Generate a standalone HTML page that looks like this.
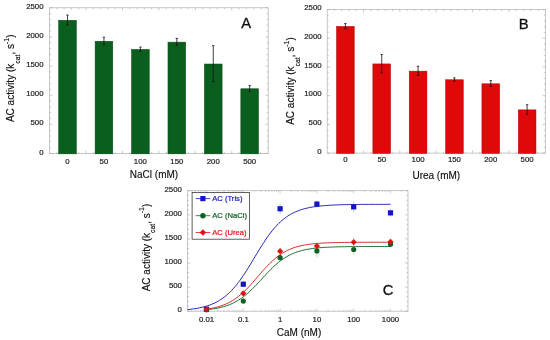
<!DOCTYPE html>
<html><head><meta charset="utf-8"><title>AC activity</title>
<style>
html,body{margin:0;padding:0;background:#fff;}
body{width:550px;height:340px;overflow:hidden;}
svg{display:block;font-family:"Liberation Sans",Arial,Helvetica,sans-serif;}
.tk{font-size:7.8px;fill:#222;stroke:#222;stroke-width:0.2px;}
.ax{font-size:10px;fill:#111;stroke:#111;stroke-width:0.15px;}
.pl{font-size:14.8px;fill:#111;stroke:#111;stroke-width:0.3px;}
.lg{font-size:7.65px;stroke-width:0.2px;}
</style></head><body>
<svg width="550" height="340" viewBox="0 0 550 340">
<rect width="550" height="340" fill="#fff"/>

<rect x="49.6" y="7.8" width="218.6" height="145.7" fill="none" stroke="#b0b0b0" stroke-width="0.7"/>
<path d="M49.6 153.50h2.8M268.2 153.50h-2.8" stroke="#a8a8a8" stroke-width="0.6"/>
<path d="M49.6 147.67h1.5M268.2 147.67h-1.5" stroke="#a8a8a8" stroke-width="0.6"/>
<path d="M49.6 141.84h1.5M268.2 141.84h-1.5" stroke="#a8a8a8" stroke-width="0.6"/>
<path d="M49.6 136.02h1.5M268.2 136.02h-1.5" stroke="#a8a8a8" stroke-width="0.6"/>
<path d="M49.6 130.19h1.5M268.2 130.19h-1.5" stroke="#a8a8a8" stroke-width="0.6"/>
<path d="M49.6 124.36h2.8M268.2 124.36h-2.8" stroke="#a8a8a8" stroke-width="0.6"/>
<path d="M49.6 118.53h1.5M268.2 118.53h-1.5" stroke="#a8a8a8" stroke-width="0.6"/>
<path d="M49.6 112.70h1.5M268.2 112.70h-1.5" stroke="#a8a8a8" stroke-width="0.6"/>
<path d="M49.6 106.88h1.5M268.2 106.88h-1.5" stroke="#a8a8a8" stroke-width="0.6"/>
<path d="M49.6 101.05h1.5M268.2 101.05h-1.5" stroke="#a8a8a8" stroke-width="0.6"/>
<path d="M49.6 95.22h2.8M268.2 95.22h-2.8" stroke="#a8a8a8" stroke-width="0.6"/>
<path d="M49.6 89.39h1.5M268.2 89.39h-1.5" stroke="#a8a8a8" stroke-width="0.6"/>
<path d="M49.6 83.56h1.5M268.2 83.56h-1.5" stroke="#a8a8a8" stroke-width="0.6"/>
<path d="M49.6 77.74h1.5M268.2 77.74h-1.5" stroke="#a8a8a8" stroke-width="0.6"/>
<path d="M49.6 71.91h1.5M268.2 71.91h-1.5" stroke="#a8a8a8" stroke-width="0.6"/>
<path d="M49.6 66.08h2.8M268.2 66.08h-2.8" stroke="#a8a8a8" stroke-width="0.6"/>
<path d="M49.6 60.25h1.5M268.2 60.25h-1.5" stroke="#a8a8a8" stroke-width="0.6"/>
<path d="M49.6 54.42h1.5M268.2 54.42h-1.5" stroke="#a8a8a8" stroke-width="0.6"/>
<path d="M49.6 48.60h1.5M268.2 48.60h-1.5" stroke="#a8a8a8" stroke-width="0.6"/>
<path d="M49.6 42.77h1.5M268.2 42.77h-1.5" stroke="#a8a8a8" stroke-width="0.6"/>
<path d="M49.6 36.94h2.8M268.2 36.94h-2.8" stroke="#a8a8a8" stroke-width="0.6"/>
<path d="M49.6 31.11h1.5M268.2 31.11h-1.5" stroke="#a8a8a8" stroke-width="0.6"/>
<path d="M49.6 25.28h1.5M268.2 25.28h-1.5" stroke="#a8a8a8" stroke-width="0.6"/>
<path d="M49.6 19.46h1.5M268.2 19.46h-1.5" stroke="#a8a8a8" stroke-width="0.6"/>
<path d="M49.6 13.63h1.5M268.2 13.63h-1.5" stroke="#a8a8a8" stroke-width="0.6"/>
<path d="M49.6 7.80h2.8M268.2 7.80h-2.8" stroke="#a8a8a8" stroke-width="0.6"/>
<text class="tk" x="43.5" y="154.50" text-anchor="end">0</text>
<text class="tk" x="43.5" y="125.36" text-anchor="end">500</text>
<text class="tk" x="43.5" y="96.22" text-anchor="end">1000</text>
<text class="tk" x="43.5" y="67.08" text-anchor="end">1500</text>
<text class="tk" x="43.5" y="37.94" text-anchor="end">2000</text>
<text class="tk" x="43.5" y="8.80" text-anchor="end">2500</text>
<path d="M56.89 153.5v-1.5M56.89 7.8v1.5" stroke="#a8a8a8" stroke-width="0.6"/>
<path d="M64.17 153.5v-1.5M64.17 7.8v1.5" stroke="#a8a8a8" stroke-width="0.6"/>
<path d="M71.46 153.5v-1.5M71.46 7.8v1.5" stroke="#a8a8a8" stroke-width="0.6"/>
<path d="M78.75 153.5v-1.5M78.75 7.8v1.5" stroke="#a8a8a8" stroke-width="0.6"/>
<path d="M86.03 153.5v-2.8M86.03 7.8v2.8" stroke="#a8a8a8" stroke-width="0.6"/>
<path d="M93.32 153.5v-1.5M93.32 7.8v1.5" stroke="#a8a8a8" stroke-width="0.6"/>
<path d="M100.61 153.5v-1.5M100.61 7.8v1.5" stroke="#a8a8a8" stroke-width="0.6"/>
<path d="M107.89 153.5v-1.5M107.89 7.8v1.5" stroke="#a8a8a8" stroke-width="0.6"/>
<path d="M115.18 153.5v-1.5M115.18 7.8v1.5" stroke="#a8a8a8" stroke-width="0.6"/>
<path d="M122.47 153.5v-2.8M122.47 7.8v2.8" stroke="#a8a8a8" stroke-width="0.6"/>
<path d="M129.75 153.5v-1.5M129.75 7.8v1.5" stroke="#a8a8a8" stroke-width="0.6"/>
<path d="M137.04 153.5v-1.5M137.04 7.8v1.5" stroke="#a8a8a8" stroke-width="0.6"/>
<path d="M144.33 153.5v-1.5M144.33 7.8v1.5" stroke="#a8a8a8" stroke-width="0.6"/>
<path d="M151.61 153.5v-1.5M151.61 7.8v1.5" stroke="#a8a8a8" stroke-width="0.6"/>
<path d="M158.90 153.5v-2.8M158.90 7.8v2.8" stroke="#a8a8a8" stroke-width="0.6"/>
<path d="M166.19 153.5v-1.5M166.19 7.8v1.5" stroke="#a8a8a8" stroke-width="0.6"/>
<path d="M173.47 153.5v-1.5M173.47 7.8v1.5" stroke="#a8a8a8" stroke-width="0.6"/>
<path d="M180.76 153.5v-1.5M180.76 7.8v1.5" stroke="#a8a8a8" stroke-width="0.6"/>
<path d="M188.05 153.5v-1.5M188.05 7.8v1.5" stroke="#a8a8a8" stroke-width="0.6"/>
<path d="M195.33 153.5v-2.8M195.33 7.8v2.8" stroke="#a8a8a8" stroke-width="0.6"/>
<path d="M202.62 153.5v-1.5M202.62 7.8v1.5" stroke="#a8a8a8" stroke-width="0.6"/>
<path d="M209.91 153.5v-1.5M209.91 7.8v1.5" stroke="#a8a8a8" stroke-width="0.6"/>
<path d="M217.19 153.5v-1.5M217.19 7.8v1.5" stroke="#a8a8a8" stroke-width="0.6"/>
<path d="M224.48 153.5v-1.5M224.48 7.8v1.5" stroke="#a8a8a8" stroke-width="0.6"/>
<path d="M231.77 153.5v-2.8M231.77 7.8v2.8" stroke="#a8a8a8" stroke-width="0.6"/>
<path d="M239.05 153.5v-1.5M239.05 7.8v1.5" stroke="#a8a8a8" stroke-width="0.6"/>
<path d="M246.34 153.5v-1.5M246.34 7.8v1.5" stroke="#a8a8a8" stroke-width="0.6"/>
<path d="M253.63 153.5v-1.5M253.63 7.8v1.5" stroke="#a8a8a8" stroke-width="0.6"/>
<path d="M260.91 153.5v-1.5M260.91 7.8v1.5" stroke="#a8a8a8" stroke-width="0.6"/>
<rect x="58.67" y="20.29" width="17.7" height="133.56" fill="#0b5f1e" stroke="#064715" stroke-width="0.5"/>
<rect x="95.10" y="41.27" width="17.7" height="112.58" fill="#0b5f1e" stroke="#064715" stroke-width="0.5"/>
<rect x="131.53" y="49.43" width="17.7" height="104.42" fill="#0b5f1e" stroke="#064715" stroke-width="0.5"/>
<rect x="167.97" y="42.14" width="17.7" height="111.71" fill="#0b5f1e" stroke="#064715" stroke-width="0.5"/>
<rect x="204.40" y="64.00" width="17.7" height="89.85" fill="#0b5f1e" stroke="#064715" stroke-width="0.5"/>
<rect x="240.83" y="88.77" width="17.7" height="65.08" fill="#0b5f1e" stroke="#064715" stroke-width="0.5"/>
<path d="M67.52 15.09V24.99M66.32 15.09h2.4M66.32 24.99h2.4" stroke="#111" stroke-width="0.8" fill="none"/>
<path d="M103.95 37.23V44.81M102.75 37.23h2.4M102.75 44.81h2.4" stroke="#111" stroke-width="0.8" fill="none"/>
<path d="M140.38 47.14V51.22M139.18 47.14h2.4M139.18 51.22h2.4" stroke="#111" stroke-width="0.8" fill="none"/>
<path d="M176.82 38.40V45.39M175.62 38.40h2.4M175.62 45.39h2.4" stroke="#111" stroke-width="0.8" fill="none"/>
<path d="M213.25 45.68V81.82M212.05 45.68h2.4M212.05 81.82h2.4" stroke="#111" stroke-width="0.8" fill="none"/>
<path d="M249.68 85.60V91.43M248.48 85.60h2.4M248.48 91.43h2.4" stroke="#111" stroke-width="0.8" fill="none"/>
<text class="tk" x="67.52" y="164.4" text-anchor="middle">0</text>
<text class="tk" x="103.95" y="164.4" text-anchor="middle">50</text>
<text class="tk" x="140.38" y="164.4" text-anchor="middle">100</text>
<text class="tk" x="176.82" y="164.4" text-anchor="middle">150</text>
<text class="tk" x="213.25" y="164.4" text-anchor="middle">200</text>
<text class="tk" x="249.68" y="164.4" text-anchor="middle">500</text>
<text class="ax" x="154" y="177.6" text-anchor="middle">NaCl (mM)</text>
<text class="pl" x="246.1" y="27.8" text-anchor="middle">A</text>
<text transform="translate(13.9,122.1) rotate(-90)" font-size="10px" fill="#111" stroke="#111" stroke-width="0.15">AC activity (k<tspan font-size="6.90px" dy="5.6">cat</tspan><tspan dy="-5.6">, s</tspan><tspan font-size="6.90px" dy="-5.4">-1</tspan><tspan dy="5.4">)</tspan></text>
<rect x="327.2" y="9.5" width="218.09999999999997" height="143.6" fill="none" stroke="#b0b0b0" stroke-width="0.7"/>
<path d="M327.2 153.10h2.8M545.3 153.10h-2.8" stroke="#a8a8a8" stroke-width="0.6"/>
<path d="M327.2 147.36h1.5M545.3 147.36h-1.5" stroke="#a8a8a8" stroke-width="0.6"/>
<path d="M327.2 141.61h1.5M545.3 141.61h-1.5" stroke="#a8a8a8" stroke-width="0.6"/>
<path d="M327.2 135.87h1.5M545.3 135.87h-1.5" stroke="#a8a8a8" stroke-width="0.6"/>
<path d="M327.2 130.12h1.5M545.3 130.12h-1.5" stroke="#a8a8a8" stroke-width="0.6"/>
<path d="M327.2 124.38h2.8M545.3 124.38h-2.8" stroke="#a8a8a8" stroke-width="0.6"/>
<path d="M327.2 118.64h1.5M545.3 118.64h-1.5" stroke="#a8a8a8" stroke-width="0.6"/>
<path d="M327.2 112.89h1.5M545.3 112.89h-1.5" stroke="#a8a8a8" stroke-width="0.6"/>
<path d="M327.2 107.15h1.5M545.3 107.15h-1.5" stroke="#a8a8a8" stroke-width="0.6"/>
<path d="M327.2 101.40h1.5M545.3 101.40h-1.5" stroke="#a8a8a8" stroke-width="0.6"/>
<path d="M327.2 95.66h2.8M545.3 95.66h-2.8" stroke="#a8a8a8" stroke-width="0.6"/>
<path d="M327.2 89.92h1.5M545.3 89.92h-1.5" stroke="#a8a8a8" stroke-width="0.6"/>
<path d="M327.2 84.17h1.5M545.3 84.17h-1.5" stroke="#a8a8a8" stroke-width="0.6"/>
<path d="M327.2 78.43h1.5M545.3 78.43h-1.5" stroke="#a8a8a8" stroke-width="0.6"/>
<path d="M327.2 72.68h1.5M545.3 72.68h-1.5" stroke="#a8a8a8" stroke-width="0.6"/>
<path d="M327.2 66.94h2.8M545.3 66.94h-2.8" stroke="#a8a8a8" stroke-width="0.6"/>
<path d="M327.2 61.20h1.5M545.3 61.20h-1.5" stroke="#a8a8a8" stroke-width="0.6"/>
<path d="M327.2 55.45h1.5M545.3 55.45h-1.5" stroke="#a8a8a8" stroke-width="0.6"/>
<path d="M327.2 49.71h1.5M545.3 49.71h-1.5" stroke="#a8a8a8" stroke-width="0.6"/>
<path d="M327.2 43.96h1.5M545.3 43.96h-1.5" stroke="#a8a8a8" stroke-width="0.6"/>
<path d="M327.2 38.22h2.8M545.3 38.22h-2.8" stroke="#a8a8a8" stroke-width="0.6"/>
<path d="M327.2 32.48h1.5M545.3 32.48h-1.5" stroke="#a8a8a8" stroke-width="0.6"/>
<path d="M327.2 26.73h1.5M545.3 26.73h-1.5" stroke="#a8a8a8" stroke-width="0.6"/>
<path d="M327.2 20.99h1.5M545.3 20.99h-1.5" stroke="#a8a8a8" stroke-width="0.6"/>
<path d="M327.2 15.24h1.5M545.3 15.24h-1.5" stroke="#a8a8a8" stroke-width="0.6"/>
<path d="M327.2 9.50h2.8M545.3 9.50h-2.8" stroke="#a8a8a8" stroke-width="0.6"/>
<text class="tk" x="321.6" y="153.90" text-anchor="end">0</text>
<text class="tk" x="321.6" y="125.18" text-anchor="end">500</text>
<text class="tk" x="321.6" y="96.46" text-anchor="end">1000</text>
<text class="tk" x="321.6" y="67.74" text-anchor="end">1500</text>
<text class="tk" x="321.6" y="39.02" text-anchor="end">2000</text>
<text class="tk" x="321.6" y="10.30" text-anchor="end">2500</text>
<path d="M334.47 153.1v-1.5M334.47 9.5v1.5" stroke="#a8a8a8" stroke-width="0.6"/>
<path d="M341.74 153.1v-1.5M341.74 9.5v1.5" stroke="#a8a8a8" stroke-width="0.6"/>
<path d="M349.01 153.1v-1.5M349.01 9.5v1.5" stroke="#a8a8a8" stroke-width="0.6"/>
<path d="M356.28 153.1v-1.5M356.28 9.5v1.5" stroke="#a8a8a8" stroke-width="0.6"/>
<path d="M363.55 153.1v-2.8M363.55 9.5v2.8" stroke="#a8a8a8" stroke-width="0.6"/>
<path d="M370.82 153.1v-1.5M370.82 9.5v1.5" stroke="#a8a8a8" stroke-width="0.6"/>
<path d="M378.09 153.1v-1.5M378.09 9.5v1.5" stroke="#a8a8a8" stroke-width="0.6"/>
<path d="M385.36 153.1v-1.5M385.36 9.5v1.5" stroke="#a8a8a8" stroke-width="0.6"/>
<path d="M392.63 153.1v-1.5M392.63 9.5v1.5" stroke="#a8a8a8" stroke-width="0.6"/>
<path d="M399.90 153.1v-2.8M399.90 9.5v2.8" stroke="#a8a8a8" stroke-width="0.6"/>
<path d="M407.17 153.1v-1.5M407.17 9.5v1.5" stroke="#a8a8a8" stroke-width="0.6"/>
<path d="M414.44 153.1v-1.5M414.44 9.5v1.5" stroke="#a8a8a8" stroke-width="0.6"/>
<path d="M421.71 153.1v-1.5M421.71 9.5v1.5" stroke="#a8a8a8" stroke-width="0.6"/>
<path d="M428.98 153.1v-1.5M428.98 9.5v1.5" stroke="#a8a8a8" stroke-width="0.6"/>
<path d="M436.25 153.1v-2.8M436.25 9.5v2.8" stroke="#a8a8a8" stroke-width="0.6"/>
<path d="M443.52 153.1v-1.5M443.52 9.5v1.5" stroke="#a8a8a8" stroke-width="0.6"/>
<path d="M450.79 153.1v-1.5M450.79 9.5v1.5" stroke="#a8a8a8" stroke-width="0.6"/>
<path d="M458.06 153.1v-1.5M458.06 9.5v1.5" stroke="#a8a8a8" stroke-width="0.6"/>
<path d="M465.33 153.1v-1.5M465.33 9.5v1.5" stroke="#a8a8a8" stroke-width="0.6"/>
<path d="M472.60 153.1v-2.8M472.60 9.5v2.8" stroke="#a8a8a8" stroke-width="0.6"/>
<path d="M479.87 153.1v-1.5M479.87 9.5v1.5" stroke="#a8a8a8" stroke-width="0.6"/>
<path d="M487.14 153.1v-1.5M487.14 9.5v1.5" stroke="#a8a8a8" stroke-width="0.6"/>
<path d="M494.41 153.1v-1.5M494.41 9.5v1.5" stroke="#a8a8a8" stroke-width="0.6"/>
<path d="M501.68 153.1v-1.5M501.68 9.5v1.5" stroke="#a8a8a8" stroke-width="0.6"/>
<path d="M508.95 153.1v-2.8M508.95 9.5v2.8" stroke="#a8a8a8" stroke-width="0.6"/>
<path d="M516.22 153.1v-1.5M516.22 9.5v1.5" stroke="#a8a8a8" stroke-width="0.6"/>
<path d="M523.49 153.1v-1.5M523.49 9.5v1.5" stroke="#a8a8a8" stroke-width="0.6"/>
<path d="M530.76 153.1v-1.5M530.76 9.5v1.5" stroke="#a8a8a8" stroke-width="0.6"/>
<path d="M538.03 153.1v-1.5M538.03 9.5v1.5" stroke="#a8a8a8" stroke-width="0.6"/>
<rect x="336.52" y="26.41" width="17.7" height="127.04" fill="#df0909" stroke="#a80505" stroke-width="0.5"/>
<rect x="372.87" y="63.92" width="17.7" height="89.53" fill="#df0909" stroke="#a80505" stroke-width="0.5"/>
<rect x="409.22" y="71.15" width="17.7" height="82.30" fill="#df0909" stroke="#a80505" stroke-width="0.5"/>
<rect x="445.57" y="79.77" width="17.7" height="73.68" fill="#df0909" stroke="#a80505" stroke-width="0.5"/>
<rect x="481.92" y="83.79" width="17.7" height="69.66" fill="#df0909" stroke="#a80505" stroke-width="0.5"/>
<rect x="518.27" y="109.87" width="17.7" height="43.58" fill="#df0909" stroke="#a80505" stroke-width="0.5"/>
<path d="M345.38 23.57V28.74M344.18 23.57h2.4M344.18 28.74h2.4" stroke="#111" stroke-width="0.8" fill="none"/>
<path d="M381.72 54.48V72.86M380.52 54.48h2.4M380.52 72.86h2.4" stroke="#111" stroke-width="0.8" fill="none"/>
<path d="M418.07 66.31V75.50M416.88 66.31h2.4M416.88 75.50h2.4" stroke="#111" stroke-width="0.8" fill="none"/>
<path d="M454.42 77.80V81.24M453.22 77.80h2.4M453.22 81.24h2.4" stroke="#111" stroke-width="0.8" fill="none"/>
<path d="M490.77 80.67V86.41M489.57 80.67h2.4M489.57 86.41h2.4" stroke="#111" stroke-width="0.8" fill="none"/>
<path d="M527.12 104.74V114.50M525.92 104.74h2.4M525.92 114.50h2.4" stroke="#111" stroke-width="0.8" fill="none"/>
<text class="tk" x="345.38" y="161.6" text-anchor="middle">0</text>
<text class="tk" x="381.72" y="161.6" text-anchor="middle">50</text>
<text class="tk" x="418.07" y="161.6" text-anchor="middle">100</text>
<text class="tk" x="454.42" y="161.6" text-anchor="middle">150</text>
<text class="tk" x="490.77" y="161.6" text-anchor="middle">200</text>
<text class="tk" x="527.12" y="161.6" text-anchor="middle">500</text>
<text class="ax" x="436.3" y="178.6" text-anchor="middle">Urea (mM)</text>
<text class="pl" x="523.6" y="28.8" text-anchor="middle">B</text>
<text transform="translate(293.9,124.8) rotate(-90)" font-size="10px" fill="#111" stroke="#111" stroke-width="0.15">AC activity (k<tspan font-size="6.90px" dy="5.6">cat</tspan><tspan dy="-5.6">, s</tspan><tspan font-size="6.90px" dy="-5.4">-1</tspan><tspan dy="5.4">)</tspan></text>
<rect x="187.5" y="190.7" width="220.5" height="120.5" fill="none" stroke="#b0b0b0" stroke-width="0.7"/>
<path d="M187.5 311.20h2.8M408.0 311.20h-2.8" stroke="#a8a8a8" stroke-width="0.6"/>
<path d="M187.5 306.38h1.5M408.0 306.38h-1.5" stroke="#a8a8a8" stroke-width="0.6"/>
<path d="M187.5 301.56h1.5M408.0 301.56h-1.5" stroke="#a8a8a8" stroke-width="0.6"/>
<path d="M187.5 296.74h1.5M408.0 296.74h-1.5" stroke="#a8a8a8" stroke-width="0.6"/>
<path d="M187.5 291.92h1.5M408.0 291.92h-1.5" stroke="#a8a8a8" stroke-width="0.6"/>
<path d="M187.5 287.10h2.8M408.0 287.10h-2.8" stroke="#a8a8a8" stroke-width="0.6"/>
<path d="M187.5 282.28h1.5M408.0 282.28h-1.5" stroke="#a8a8a8" stroke-width="0.6"/>
<path d="M187.5 277.46h1.5M408.0 277.46h-1.5" stroke="#a8a8a8" stroke-width="0.6"/>
<path d="M187.5 272.64h1.5M408.0 272.64h-1.5" stroke="#a8a8a8" stroke-width="0.6"/>
<path d="M187.5 267.82h1.5M408.0 267.82h-1.5" stroke="#a8a8a8" stroke-width="0.6"/>
<path d="M187.5 263.00h2.8M408.0 263.00h-2.8" stroke="#a8a8a8" stroke-width="0.6"/>
<path d="M187.5 258.18h1.5M408.0 258.18h-1.5" stroke="#a8a8a8" stroke-width="0.6"/>
<path d="M187.5 253.36h1.5M408.0 253.36h-1.5" stroke="#a8a8a8" stroke-width="0.6"/>
<path d="M187.5 248.54h1.5M408.0 248.54h-1.5" stroke="#a8a8a8" stroke-width="0.6"/>
<path d="M187.5 243.72h1.5M408.0 243.72h-1.5" stroke="#a8a8a8" stroke-width="0.6"/>
<path d="M187.5 238.90h2.8M408.0 238.90h-2.8" stroke="#a8a8a8" stroke-width="0.6"/>
<path d="M187.5 234.08h1.5M408.0 234.08h-1.5" stroke="#a8a8a8" stroke-width="0.6"/>
<path d="M187.5 229.26h1.5M408.0 229.26h-1.5" stroke="#a8a8a8" stroke-width="0.6"/>
<path d="M187.5 224.44h1.5M408.0 224.44h-1.5" stroke="#a8a8a8" stroke-width="0.6"/>
<path d="M187.5 219.62h1.5M408.0 219.62h-1.5" stroke="#a8a8a8" stroke-width="0.6"/>
<path d="M187.5 214.80h2.8M408.0 214.80h-2.8" stroke="#a8a8a8" stroke-width="0.6"/>
<path d="M187.5 209.98h1.5M408.0 209.98h-1.5" stroke="#a8a8a8" stroke-width="0.6"/>
<path d="M187.5 205.16h1.5M408.0 205.16h-1.5" stroke="#a8a8a8" stroke-width="0.6"/>
<path d="M187.5 200.34h1.5M408.0 200.34h-1.5" stroke="#a8a8a8" stroke-width="0.6"/>
<path d="M187.5 195.52h1.5M408.0 195.52h-1.5" stroke="#a8a8a8" stroke-width="0.6"/>
<path d="M187.5 190.70h2.8M408.0 190.70h-2.8" stroke="#a8a8a8" stroke-width="0.6"/>
<text class="tk" x="181.9" y="312.40" text-anchor="end">0</text>
<text class="tk" x="181.9" y="288.30" text-anchor="end">500</text>
<text class="tk" x="181.9" y="264.20" text-anchor="end">1000</text>
<text class="tk" x="181.9" y="240.10" text-anchor="end">1500</text>
<text class="tk" x="181.9" y="216.00" text-anchor="end">2000</text>
<text class="tk" x="181.9" y="191.90" text-anchor="end">2500</text>
<path d="M191.86 311.2v-1.4M191.86 190.7v1.4" stroke="#a8a8a8" stroke-width="0.5"/>
<path d="M195.42 311.2v-1.4M195.42 190.7v1.4" stroke="#a8a8a8" stroke-width="0.5"/>
<path d="M198.34 311.2v-1.4M198.34 190.7v1.4" stroke="#a8a8a8" stroke-width="0.5"/>
<path d="M200.80 311.2v-1.4M200.80 190.7v1.4" stroke="#a8a8a8" stroke-width="0.5"/>
<path d="M202.93 311.2v-1.4M202.93 190.7v1.4" stroke="#a8a8a8" stroke-width="0.5"/>
<path d="M204.82 311.2v-1.4M204.82 190.7v1.4" stroke="#a8a8a8" stroke-width="0.5"/>
<path d="M206.50 311.2v-2.8M206.50 190.7v2.8" stroke="#a8a8a8" stroke-width="0.5"/>
<path d="M217.58 311.2v-1.4M217.58 190.7v1.4" stroke="#a8a8a8" stroke-width="0.5"/>
<path d="M224.06 311.2v-1.4M224.06 190.7v1.4" stroke="#a8a8a8" stroke-width="0.5"/>
<path d="M228.66 311.2v-1.4M228.66 190.7v1.4" stroke="#a8a8a8" stroke-width="0.5"/>
<path d="M232.22 311.2v-1.4M232.22 190.7v1.4" stroke="#a8a8a8" stroke-width="0.5"/>
<path d="M235.14 311.2v-1.4M235.14 190.7v1.4" stroke="#a8a8a8" stroke-width="0.5"/>
<path d="M237.60 311.2v-1.4M237.60 190.7v1.4" stroke="#a8a8a8" stroke-width="0.5"/>
<path d="M239.73 311.2v-1.4M239.73 190.7v1.4" stroke="#a8a8a8" stroke-width="0.5"/>
<path d="M241.62 311.2v-1.4M241.62 190.7v1.4" stroke="#a8a8a8" stroke-width="0.5"/>
<path d="M243.30 311.2v-2.8M243.30 190.7v2.8" stroke="#a8a8a8" stroke-width="0.5"/>
<path d="M254.38 311.2v-1.4M254.38 190.7v1.4" stroke="#a8a8a8" stroke-width="0.5"/>
<path d="M260.86 311.2v-1.4M260.86 190.7v1.4" stroke="#a8a8a8" stroke-width="0.5"/>
<path d="M265.46 311.2v-1.4M265.46 190.7v1.4" stroke="#a8a8a8" stroke-width="0.5"/>
<path d="M269.02 311.2v-1.4M269.02 190.7v1.4" stroke="#a8a8a8" stroke-width="0.5"/>
<path d="M271.94 311.2v-1.4M271.94 190.7v1.4" stroke="#a8a8a8" stroke-width="0.5"/>
<path d="M274.40 311.2v-1.4M274.40 190.7v1.4" stroke="#a8a8a8" stroke-width="0.5"/>
<path d="M276.53 311.2v-1.4M276.53 190.7v1.4" stroke="#a8a8a8" stroke-width="0.5"/>
<path d="M278.42 311.2v-1.4M278.42 190.7v1.4" stroke="#a8a8a8" stroke-width="0.5"/>
<path d="M280.10 311.2v-2.8M280.10 190.7v2.8" stroke="#a8a8a8" stroke-width="0.5"/>
<path d="M291.18 311.2v-1.4M291.18 190.7v1.4" stroke="#a8a8a8" stroke-width="0.5"/>
<path d="M297.66 311.2v-1.4M297.66 190.7v1.4" stroke="#a8a8a8" stroke-width="0.5"/>
<path d="M302.26 311.2v-1.4M302.26 190.7v1.4" stroke="#a8a8a8" stroke-width="0.5"/>
<path d="M305.82 311.2v-1.4M305.82 190.7v1.4" stroke="#a8a8a8" stroke-width="0.5"/>
<path d="M308.74 311.2v-1.4M308.74 190.7v1.4" stroke="#a8a8a8" stroke-width="0.5"/>
<path d="M311.20 311.2v-1.4M311.20 190.7v1.4" stroke="#a8a8a8" stroke-width="0.5"/>
<path d="M313.33 311.2v-1.4M313.33 190.7v1.4" stroke="#a8a8a8" stroke-width="0.5"/>
<path d="M315.22 311.2v-1.4M315.22 190.7v1.4" stroke="#a8a8a8" stroke-width="0.5"/>
<path d="M316.90 311.2v-2.8M316.90 190.7v2.8" stroke="#a8a8a8" stroke-width="0.5"/>
<path d="M327.98 311.2v-1.4M327.98 190.7v1.4" stroke="#a8a8a8" stroke-width="0.5"/>
<path d="M334.46 311.2v-1.4M334.46 190.7v1.4" stroke="#a8a8a8" stroke-width="0.5"/>
<path d="M339.06 311.2v-1.4M339.06 190.7v1.4" stroke="#a8a8a8" stroke-width="0.5"/>
<path d="M342.62 311.2v-1.4M342.62 190.7v1.4" stroke="#a8a8a8" stroke-width="0.5"/>
<path d="M345.54 311.2v-1.4M345.54 190.7v1.4" stroke="#a8a8a8" stroke-width="0.5"/>
<path d="M348.00 311.2v-1.4M348.00 190.7v1.4" stroke="#a8a8a8" stroke-width="0.5"/>
<path d="M350.13 311.2v-1.4M350.13 190.7v1.4" stroke="#a8a8a8" stroke-width="0.5"/>
<path d="M352.02 311.2v-1.4M352.02 190.7v1.4" stroke="#a8a8a8" stroke-width="0.5"/>
<path d="M353.70 311.2v-2.8M353.70 190.7v2.8" stroke="#a8a8a8" stroke-width="0.5"/>
<path d="M364.78 311.2v-1.4M364.78 190.7v1.4" stroke="#a8a8a8" stroke-width="0.5"/>
<path d="M371.26 311.2v-1.4M371.26 190.7v1.4" stroke="#a8a8a8" stroke-width="0.5"/>
<path d="M375.86 311.2v-1.4M375.86 190.7v1.4" stroke="#a8a8a8" stroke-width="0.5"/>
<path d="M379.42 311.2v-1.4M379.42 190.7v1.4" stroke="#a8a8a8" stroke-width="0.5"/>
<path d="M382.34 311.2v-1.4M382.34 190.7v1.4" stroke="#a8a8a8" stroke-width="0.5"/>
<path d="M384.80 311.2v-1.4M384.80 190.7v1.4" stroke="#a8a8a8" stroke-width="0.5"/>
<path d="M386.93 311.2v-1.4M386.93 190.7v1.4" stroke="#a8a8a8" stroke-width="0.5"/>
<path d="M388.82 311.2v-1.4M388.82 190.7v1.4" stroke="#a8a8a8" stroke-width="0.5"/>
<path d="M390.50 311.2v-2.8M390.50 190.7v2.8" stroke="#a8a8a8" stroke-width="0.5"/>
<path d="M401.58 311.2v-1.4M401.58 190.7v1.4" stroke="#a8a8a8" stroke-width="0.5"/>
<text class="tk" x="206.50" y="321.9" text-anchor="middle">0.01</text>
<text class="tk" x="243.30" y="321.9" text-anchor="middle">0.1</text>
<text class="tk" x="280.10" y="321.9" text-anchor="middle">1</text>
<text class="tk" x="316.90" y="321.9" text-anchor="middle">10</text>
<text class="tk" x="353.70" y="321.9" text-anchor="middle">100</text>
<text class="tk" x="390.50" y="321.9" text-anchor="middle">1000</text>
<text class="ax" x="299" y="336.1" text-anchor="middle">CaM (nM)</text>
<text class="pl" x="388.1" y="295.0" text-anchor="middle" font-size="15px">C</text>
<text transform="translate(149.6,291.3) rotate(-90)" font-size="10px" fill="#111" stroke="#111" stroke-width="0.15">AC activity (k<tspan font-size="6.90px" dy="5.6">cat</tspan><tspan dy="-5.6">, s</tspan><tspan font-size="6.90px" dy="-5.4">-1</tspan><tspan dy="5.4">)</tspan></text>
<polyline points="187.50,309.60 189.19,309.42 190.88,309.23 192.57,309.01 194.27,308.77 195.96,308.51 197.65,308.21 199.34,307.89 201.03,307.53 202.72,307.14 204.42,306.71 206.11,306.23 207.80,305.70 209.49,305.12 211.18,304.48 212.88,303.79 214.57,303.02 216.26,302.19 217.95,301.27 219.64,300.28 221.33,299.20 223.03,298.02 224.72,296.75 226.41,295.37 228.10,293.89 229.79,292.30 231.48,290.60 233.18,288.78 234.87,286.85 236.56,284.80 238.25,282.64 239.94,280.37 241.63,278.00 243.32,275.53 245.02,272.97 246.71,270.33 248.40,267.63 250.09,264.87 251.78,262.08 253.47,259.26 255.17,256.43 256.86,253.61 258.55,250.81 260.24,248.05 261.93,245.34 263.62,242.70 265.32,240.14 267.01,237.66 268.70,235.28 270.39,233.00 272.08,230.83 273.77,228.78 275.47,226.84 277.16,225.01 278.85,223.30 280.54,221.70 282.23,220.22 283.93,218.83 285.62,217.55 287.31,216.37 289.00,215.28 290.69,214.28 292.38,213.37 294.07,212.52 295.77,211.75 297.46,211.05 299.15,210.41 300.84,209.83 302.53,209.30 304.23,208.82 305.92,208.38 307.61,207.98 309.30,207.63 310.99,207.30 312.68,207.01 314.38,206.74 316.07,206.50 317.76,206.28 319.45,206.08 321.14,205.91 322.83,205.75 324.52,205.60 326.22,205.47 327.91,205.36 329.60,205.25 331.29,205.15 332.98,205.07 334.68,204.99 336.37,204.92 338.06,204.86 339.75,204.80 341.44,204.75 343.13,204.70 344.82,204.66 346.52,204.63 348.21,204.59 349.90,204.56 351.59,204.54 353.28,204.51 354.98,204.49 356.67,204.47 358.36,204.45 360.05,204.44 361.74,204.42 363.43,204.41 365.12,204.40 366.82,204.39 368.51,204.38 370.20,204.37 371.89,204.36 373.58,204.35 375.27,204.35 376.97,204.34 378.66,204.34 380.35,204.33 382.04,204.33 383.73,204.33 385.43,204.32 387.12,204.32 388.81,204.32 390.50,204.31" fill="none" stroke="#2626b6" stroke-width="1.0"/>
<polyline points="206.50,309.70 208.03,309.54 209.57,309.37 211.10,309.17 212.63,308.96 214.17,308.72 215.70,308.47 217.23,308.18 218.77,307.87 220.30,307.53 221.83,307.15 223.37,306.74 224.90,306.29 226.43,305.80 227.97,305.26 229.50,304.68 231.03,304.04 232.57,303.36 234.10,302.61 235.63,301.81 237.17,300.95 238.70,300.02 240.23,299.03 241.77,297.98 243.30,296.85 244.83,295.66 246.37,294.41 247.90,293.09 249.43,291.70 250.97,290.26 252.50,288.77 254.03,287.23 255.57,285.65 257.10,284.03 258.63,282.38 260.17,280.72 261.70,279.04 263.23,277.37 264.77,275.70 266.30,274.05 267.83,272.42 269.37,270.83 270.90,269.27 272.43,267.77 273.97,266.31 275.50,264.92 277.03,263.58 278.57,262.31 280.10,261.10 281.63,259.96 283.17,258.89 284.70,257.88 286.23,256.94 287.77,256.06 289.30,255.25 290.83,254.49 292.37,253.79 293.90,253.14 295.43,252.55 296.97,252.00 298.50,251.50 300.03,251.04 301.57,250.62 303.10,250.23 304.63,249.88 306.17,249.56 307.70,249.27 309.23,249.00 310.77,248.76 312.30,248.54 313.83,248.35 315.37,248.17 316.90,248.00 318.43,247.86 319.97,247.72 321.50,247.60 323.03,247.49 324.57,247.39 326.10,247.30 327.63,247.22 329.17,247.15 330.70,247.08 332.23,247.02 333.77,246.97 335.30,246.92 336.83,246.87 338.37,246.83 339.90,246.80 341.43,246.77 342.97,246.74 344.50,246.71 346.03,246.69 347.57,246.66 349.10,246.65 350.63,246.63 352.17,246.61 353.70,246.60 355.23,246.59 356.77,246.57 358.30,246.56 359.83,246.55 361.37,246.55 362.90,246.54 364.43,246.53 365.97,246.52 367.50,246.52 369.03,246.51 370.57,246.51 372.10,246.51 373.63,246.50 375.17,246.50 376.70,246.50 378.23,246.49 379.77,246.49 381.30,246.49 382.83,246.49 384.37,246.48 385.90,246.48 387.43,246.48 388.97,246.48 390.50,246.48" fill="none" stroke="#1c6b30" stroke-width="1.0"/>
<polyline points="206.50,309.11 208.03,308.88 209.57,308.64 211.10,308.37 212.63,308.08 214.17,307.75 215.70,307.40 217.23,307.01 218.77,306.58 220.30,306.11 221.83,305.60 223.37,305.05 224.90,304.44 226.43,303.78 227.97,303.07 229.50,302.30 231.03,301.46 232.57,300.56 234.10,299.60 235.63,298.56 237.17,297.46 238.70,296.28 240.23,295.03 241.77,293.72 243.30,292.33 244.83,290.88 246.37,289.36 247.90,287.79 249.43,286.16 250.97,284.48 252.50,282.77 254.03,281.02 255.57,279.25 257.10,277.47 258.63,275.69 260.17,273.90 261.70,272.14 263.23,270.40 264.77,268.69 266.30,267.02 267.83,265.40 269.37,263.83 270.90,262.33 272.43,260.88 273.97,259.51 275.50,258.20 277.03,256.96 278.57,255.80 280.10,254.70 281.63,253.68 283.17,252.72 284.70,251.83 286.23,251.01 287.77,250.24 289.30,249.54 290.83,248.89 292.37,248.29 293.90,247.74 295.43,247.24 296.97,246.78 298.50,246.36 300.03,245.97 301.57,245.62 303.10,245.30 304.63,245.01 306.17,244.75 307.70,244.51 309.23,244.29 310.77,244.09 312.30,243.91 313.83,243.75 315.37,243.60 316.90,243.47 318.43,243.35 319.97,243.24 321.50,243.14 323.03,243.05 324.57,242.97 326.10,242.90 327.63,242.83 329.17,242.77 330.70,242.72 332.23,242.67 333.77,242.63 335.30,242.59 336.83,242.55 338.37,242.52 339.90,242.49 341.43,242.47 342.97,242.44 344.50,242.42 346.03,242.40 347.57,242.38 349.10,242.37 350.63,242.36 352.17,242.34 353.70,242.33 355.23,242.32 356.77,242.31 358.30,242.30 359.83,242.30 361.37,242.29 362.90,242.28 364.43,242.28 365.97,242.27 367.50,242.27 369.03,242.26 370.57,242.26 372.10,242.26 373.63,242.25 375.17,242.25 376.70,242.25 378.23,242.25 379.77,242.24 381.30,242.24 382.83,242.24 384.37,242.24 385.90,242.24 387.43,242.24 388.97,242.24 390.50,242.23" fill="none" stroke="#d22a2a" stroke-width="1.0"/>
<path d="M243.30 281.32V287.10" stroke="#999" stroke-width="0.5"/>
<path d="M280.10 203.71V213.84" stroke="#999" stroke-width="0.5"/>
<path d="M316.90 200.48V207.71" stroke="#999" stroke-width="0.5"/>
<path d="M353.70 201.30V212.39" stroke="#999" stroke-width="0.5"/>
<path d="M390.50 209.02V216.73" stroke="#999" stroke-width="0.5"/>
<path d="M316.90 244.68V257.22" stroke="#999" stroke-width="0.5"/>
<path d="M353.70 244.20V254.81" stroke="#999" stroke-width="0.5"/>
<path d="M353.70 237.36V247.00" stroke="#999" stroke-width="0.5"/>
<rect x="203.90" y="306.67" width="5.2" height="5.2" fill="#1414c8"/>
<rect x="240.70" y="281.61" width="5.2" height="5.2" fill="#1414c8"/>
<rect x="277.50" y="206.17" width="5.2" height="5.2" fill="#1414c8"/>
<rect x="314.30" y="201.50" width="5.2" height="5.2" fill="#1414c8"/>
<rect x="351.10" y="204.25" width="5.2" height="5.2" fill="#1414c8"/>
<rect x="387.90" y="210.27" width="5.2" height="5.2" fill="#1414c8"/>
<circle cx="206.50" cy="309.75" r="2.6" fill="#0d6122"/>
<circle cx="243.30" cy="301.08" r="2.6" fill="#0d6122"/>
<circle cx="280.10" cy="257.70" r="2.6" fill="#0d6122"/>
<circle cx="316.90" cy="250.95" r="2.6" fill="#0d6122"/>
<circle cx="353.70" cy="249.50" r="2.6" fill="#0d6122"/>
<circle cx="390.50" cy="244.20" r="2.6" fill="#0d6122"/>
<path d="M206.50 306.17L209.60 309.27L206.50 312.37L203.40 309.27Z" fill="#dc1414"/>
<path d="M243.30 290.27L246.40 293.37L243.30 296.47L240.20 293.37Z" fill="#dc1414"/>
<path d="M280.10 248.09L283.20 251.19L280.10 254.29L277.00 251.19Z" fill="#dc1414"/>
<path d="M316.90 242.93L320.00 246.03L316.90 249.13L313.80 246.03Z" fill="#dc1414"/>
<path d="M353.70 239.08L356.80 242.18L353.70 245.28L350.60 242.18Z" fill="#dc1414"/>
<path d="M390.50 238.69L393.60 241.79L390.50 244.89L387.40 241.79Z" fill="#dc1414"/>
<rect x="192.1" y="192.5" width="57.3" height="46.7" fill="#fff" stroke="#3a3a3a" stroke-width="0.8"/>
<path d="M195.7 198.6H210.3" stroke="#1414c8" stroke-width="0.8"/>
<rect x="200.30" y="196.00" width="5.2" height="5.2" fill="#1414c8"/>
<text class="lg" x="212.2" y="201.29999999999998" fill="#1414c8" stroke="#1414c8">AC (Tris)</text>
<path d="M195.7 215.7H210.3" stroke="#0d6122" stroke-width="0.8"/>
<circle cx="202.90" cy="215.70" r="2.7" fill="#0d6122"/>
<text class="lg" x="212.2" y="218.39999999999998" fill="#0d6122" stroke="#0d6122">AC (NaCl)</text>
<path d="M195.7 232.5H210.3" stroke="#dc1414" stroke-width="0.8"/>
<path d="M202.90 229.30L206.10 232.50L202.90 235.70L199.70 232.50Z" fill="#dc1414"/>
<text class="lg" x="212.2" y="235.2" fill="#dc1414" stroke="#dc1414">AC (Urea)</text>
</svg></body></html>
